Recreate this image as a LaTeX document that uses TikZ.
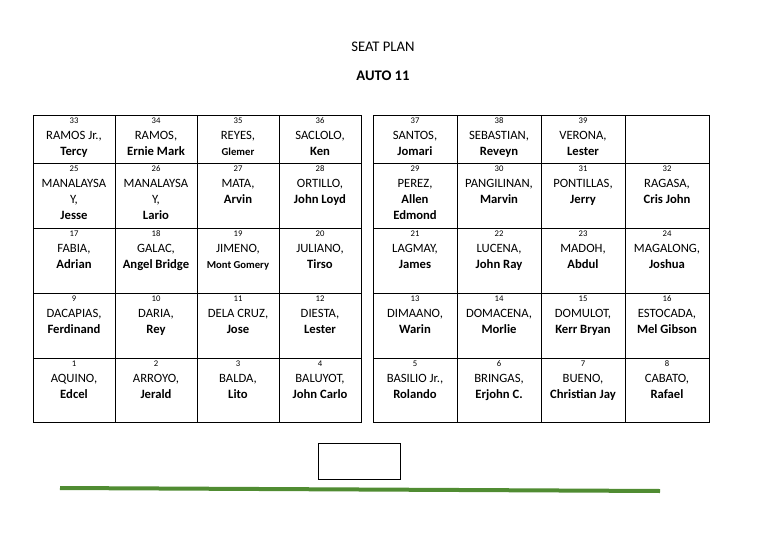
\documentclass[tikz,border=0pt]{standalone}
\usepackage{fontspec}
\setmainfont{Carlito}
\usetikzlibrary{positioning}
\definecolor{frontgreen}{RGB}{80,140,50}
\tikzset{
  seatno/.style={font=\fontsize{6.5}{7}\selectfont, inner sep=0pt},
  seatname/.style={font=\fontsize{9.5}{12}\selectfont, align=center, inner sep=0pt, anchor=north},
  block/.style={draw, line width=0.7pt}
}
\newcommand{\seatcell}[4]{%
  \node[seatno] (no#3) at (#1,#2+6) {#3};
  \node[seatname] (name#3) at (#1,#2+13) {\strut#4};
}
\begin{document}
\begin{tikzpicture}[x=0.75pt,y=-0.75pt]
\useasboundingbox (0,0) rectangle (768,543);
% titles
\node[font=\fontsize{11}{12}\selectfont] (title) at (383,47) {SEAT PLAN};
\node[font=\bfseries\fontsize{11}{12}\selectfont] (auto) at (383,76) {AUTO 11};
% grid
\foreach \xa/\xb in {33/361,373/709}{
  \draw[block] (\xa,115) rectangle (\xb,422);
  \foreach \y in {163,228,293,358} \draw[block] (\xa,\y) -- (\xb,\y);
}
\foreach \x in {115,197,279,457,541,625} \draw[block] (\x,115) -- (\x,422);
% seats
\seatcell{74}{115}{33}{RAMOS Jr.,\\\textbf{Tercy}}
\seatcell{156}{115}{34}{RAMOS,\\\textbf{Ernie Mark}}
\seatcell{238}{115}{35}{REYES,\\\textbf{\footnotesize Glemer}}
\seatcell{320}{115}{36}{SACLOLO,\\\textbf{Ken}}
\seatcell{415}{115}{37}{SANTOS,\\\textbf{Jomari}}
\seatcell{499}{115}{38}{SEBASTIAN,\\\textbf{Reveyn}}
\seatcell{583}{115}{39}{VERONA,\\\textbf{Lester}}
\seatcell{74}{163}{25}{MANALAYSA\\Y,\\\textbf{Jesse}}
\seatcell{156}{163}{26}{MANALAYSA\\Y,\\\textbf{Lario}}
\seatcell{238}{163}{27}{MATA,\\\textbf{Arvin}}
\seatcell{320}{163}{28}{ORTILLO,\\\textbf{John Loyd}}
\seatcell{415}{163}{29}{PEREZ,\\\textbf{Allen}\\\textbf{Edmond}}
\seatcell{499}{163}{30}{PANGILINAN,\\\textbf{Marvin}}
\seatcell{583}{163}{31}{PONTILLAS,\\\textbf{Jerry}}
\seatcell{667}{163}{32}{RAGASA,\\\textbf{Cris John}}
\seatcell{74}{228}{17}{FABIA,\\\textbf{Adrian}}
\seatcell{156}{228}{18}{GALAC,\\\textbf{Angel Bridge}}
\seatcell{238}{228}{19}{JIMENO,\\\textbf{\footnotesize Mont Gomery}}
\seatcell{320}{228}{20}{JULIANO,\\\textbf{Tirso}}
\seatcell{415}{228}{21}{LAGMAY,\\\textbf{James}}
\seatcell{499}{228}{22}{LUCENA,\\\textbf{John Ray}}
\seatcell{583}{228}{23}{MADOH,\\\textbf{Abdul}}
\seatcell{667}{228}{24}{MAGALONG,\\\textbf{Joshua}}
\seatcell{74}{293}{9}{DACAPIAS,\\\textbf{Ferdinand}}
\seatcell{156}{293}{10}{DARIA,\\\textbf{Rey}}
\seatcell{238}{293}{11}{DELA CRUZ,\\\textbf{Jose}}
\seatcell{320}{293}{12}{DIESTA,\\\textbf{Lester}}
\seatcell{415}{293}{13}{DIMAANO,\\\textbf{Warin}}
\seatcell{499}{293}{14}{DOMACENA,\\\textbf{Morlie}}
\seatcell{583}{293}{15}{DOMULOT,\\\textbf{Kerr Bryan}}
\seatcell{667}{293}{16}{ESTOCADA,\\\textbf{Mel Gibson}}
\seatcell{74}{358}{1}{AQUINO,\\\textbf{Edcel}}
\seatcell{156}{358}{2}{ARROYO,\\\textbf{Jerald}}
\seatcell{238}{358}{3}{BALDA,\\\textbf{Lito}}
\seatcell{320}{358}{4}{BALUYOT,\\\textbf{John Carlo}}
\seatcell{415}{358}{5}{BASILIO Jr.,\\\textbf{Rolando}}
\seatcell{499}{358}{6}{BRINGAS,\\\textbf{Erjohn C.}}
\seatcell{583}{358}{7}{BUENO,\\\textbf{Christian Jay}}
\seatcell{667}{358}{8}{CABATO,\\\textbf{Rafael}}
% table and front line
\draw[line width=0.7pt] (318,443) rectangle (400,479);
\draw[line width=3pt, frontgreen] (60,488) -- (660,491);
\end{tikzpicture}
\end{document}
